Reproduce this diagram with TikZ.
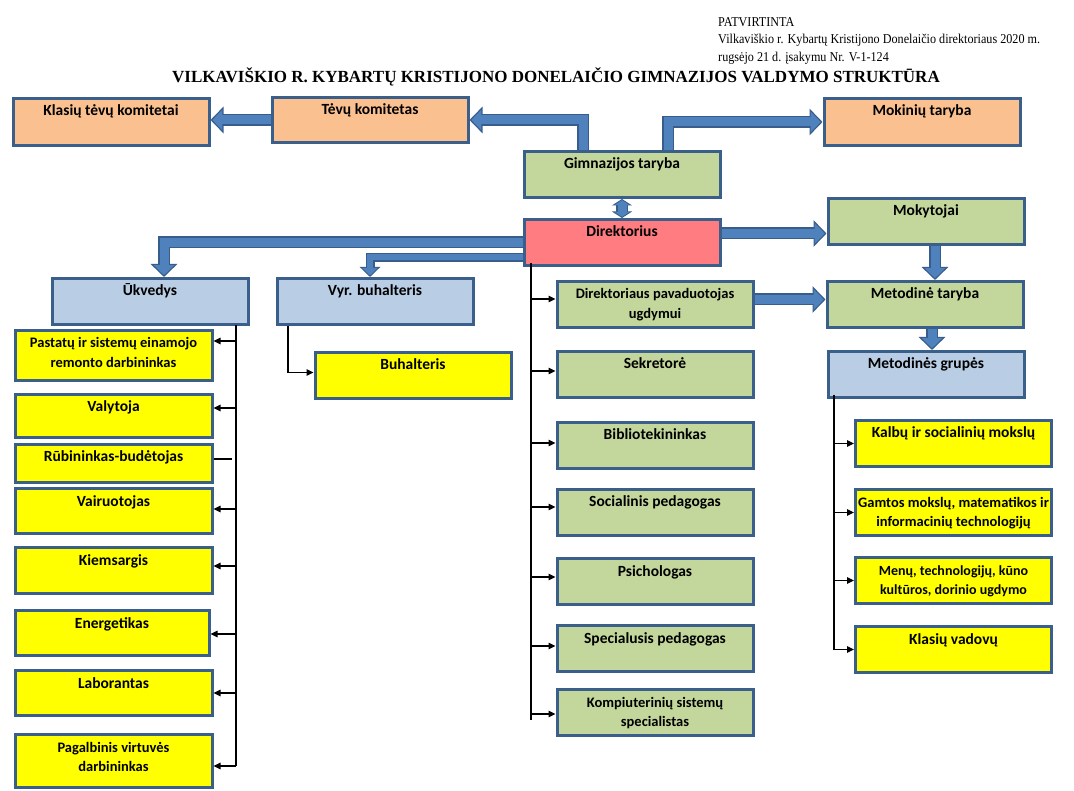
\documentclass[tikz,border=0pt]{standalone}
\usepackage{fontspec}
\usetikzlibrary{arrows.meta}
\setmainfont{Liberation Serif}
\newfontfamily\boxfont{Carlito}
\newfontfamily\notefont[FakeStretch=0.9]{Liberation Serif}

\definecolor{boxedge}{HTML}{3A5F8B}
\definecolor{corange}{HTML}{FAC090}
\definecolor{cgreen}{HTML}{C3D69B}
\definecolor{cblue}{HTML}{B9CDE5}
\definecolor{cyellow}{HTML}{FFFF00}
\definecolor{cpink}{HTML}{FF7C80}
\definecolor{flowblue}{HTML}{4F81BD}
\definecolor{flowedge}{HTML}{385D8A}

\tikzset{
  panel/.style={draw=boxedge, line width=3pt, anchor=north, minimum width=196pt,
    inner xsep=0pt, inner ysep=0pt, text height=17.5pt, text depth=28.5pt,
    align=center, font=\boxfont\bfseries\fontsize{15.5}{19.5}\selectfont},
  twoline/.style={text height=37pt, text depth=#1, font=\boxfont\bfseries\fontsize{14.5}{19.5}\selectfont},
  twoline/.default=9pt,
  orangebox/.style={panel, fill=corange},
  greenbox/.style={panel, fill=cgreen},
  bluebox/.style={panel, fill=cblue},
  yellowbox/.style={panel, fill=cyellow},
  branch/.style={line width=1.1pt, -{Triangle[length=7pt,width=6.5pt]}},
  flow/.style={draw=flowedge, line width=12pt, -{Triangle[length=13pt,width=26pt]},
    postaction={draw=flowblue, line width=9pt, -{Triangle[length=10pt,width=20pt]}, shorten >=1.8pt}},
  flowthin/.style={draw=flowedge, line width=9pt, -{Triangle[length=10pt,width=20pt]},
    postaction={draw=flowblue, line width=6pt, -{Triangle[length=7.5pt,width=15pt]}, shorten >=1.5pt}},
  flowboth/.style={draw=flowedge, line width=12pt, {Triangle[length=6.5pt,width=20pt]}-{Triangle[length=6.5pt,width=20pt]},
    postaction={draw=flowblue, line width=9pt, {Triangle[length=5pt,width=15pt]}-{Triangle[length=5pt,width=15pt]},
      shorten >=1.2pt, shorten <=1.2pt}},
}

\begin{document}
\begin{tikzpicture}[x=1pt, y=-1pt]
  \fill[white] (0,0) rectangle (1074,791);
  \useasboundingbox (0,0) rectangle (1074,791);

  % header
  \node[anchor=base west, inner sep=0pt, font=\notefont\fontsize{13.5}{16}\selectfont] (approved) at (718,27) {PATVIRTINTA};
  \node[anchor=base west, inner sep=0pt, font=\notefont\fontsize{13.5}{16}\selectfont] (order1) at (718,44) {Vilkaviškio r. Kybartų Kristijono Donelaičio direktoriaus 2020 m.};
  \node[anchor=base west, inner sep=0pt, font=\notefont\fontsize{13.5}{16}\selectfont] (order2) at (718,62) {rugsėjo 21 d. įsakymu Nr. V-1-124};
  \node[anchor=base, inner sep=0pt, font=\bfseries\fontsize{17}{20}\selectfont] (title) at (556,83) {VILKAVIŠKIO R. KYBARTŲ KRISTIJONO DONELAIČIO GIMNAZIJOS VALDYMO STRUKTŪRA};

  % top row
  \node[orangebox, text depth=29.5pt] (kla) at (111,97) {Klasių tėvų komitetai};
  \node[orangebox, text depth=27.5pt] (tevu) at (370,96) {Tėvų komitetas};
  \node[orangebox, text depth=29.5pt] (mok) at (922,97) {Mokinių taryba};
  \node[greenbox] (gimn) at (622,150) {Gimnazijos taryba};
  \node[panel, fill=cpink] (dir) at (622,218) {Direktorius};
  \node[greenbox] (mkt) at (926,197) {Mokytojai};
  \node[greenbox] (met) at (925,280) {Metodinė taryba};
  \node[bluebox] (grp) at (926,350) {Metodinės grupės};
  \node[bluebox] (ukv) at (150,277) {Ūkvedys};
  \node[bluebox] (vyr) at (375,277) {Vyr. buhalteris};
  \node[yellowbox] (buh) at (413,351) {Buhalteris};

  % left column
  \node[yellowbox, minimum width=197pt, twoline=13pt] (pas) at (113.5,329) {Pastatų ir sistemų einamojo\\remonto darbininkas};
  \node[yellowbox, minimum width=197pt, text depth=25.5pt] (val) at (113.5,393) {Valytoja};
  \node[yellowbox, minimum width=197pt, text depth=20.5pt] (rub) at (113.5,443) {Rūbininkas-budėtojas};
  \node[yellowbox, minimum width=197pt, text depth=27.5pt] (vai) at (113.5,487) {Vairuotojas};
  \node[yellowbox, minimum width=197pt] (kie) at (113.5,546) {Kiemsargis};
  \node[yellowbox, minimum width=194pt, text depth=27.5pt] (ene) at (112,609) {Energetikas};
  \node[yellowbox, minimum width=197pt, text depth=27.5pt] (lab) at (113.5,669) {Laborantas};
  \node[yellowbox, minimum width=197pt, twoline=16pt] (pag) at (113.5,733) {Pagalbinis virtuvės\\darbininkas};

  % middle column
  \node[greenbox, twoline] (pav) at (655,280) {Direktoriaus pavaduotojas\\ugdymui};
  \node[greenbox] (sek) at (655,350) {Sekretorė};
  \node[greenbox] (bib) at (655,421) {Bibliotekininkas};
  \node[greenbox] (soc) at (655,488) {Socialinis pedagogas};
  \node[greenbox] (psi) at (655,557) {Psichologas};
  \node[greenbox] (spe) at (655,624) {Specialusis pedagogas};
  \node[greenbox, twoline] (kom) at (655,688) {Kompiuterinių sistemų\\specialistas};

  % right column
  \node[yellowbox] (kal) at (953.5,419) {Kalbų ir socialinių mokslų};
  \node[yellowbox, twoline] (gam) at (953.5,488) {Gamtos mokslų, matematikos ir\\informacinių technologijų};
  \node[yellowbox, twoline, font=\boxfont\bfseries\fontsize{14}{19.5}\selectfont] (men) at (953.5,556) {Menų, technologijų, kūno\\kultūros, dorinio ugdymo};
  \node[yellowbox] (kvad) at (953.5,625) {Klasių vadovų};

  % block arrows
  \draw[flow] (tevu.west) -- (tevu.west -| kla.east);
  \draw[flow] ([xshift=-39pt]gimn.north) |- (tevu.east);
  \draw[flow] ([xshift=46pt]gimn.north) |- (mok.west);
  \draw[flowboth] (gimn.south) -- (dir.north);
  \draw[flow] ([yshift=9pt]dir.east) -- ([yshift=9pt]dir.east -| mkt.west);
  \draw[flow] (dir.west) -| ([xshift=14pt]ukv.north);
  \draw[flowthin] ([yshift=-15pt]dir.west) -| ([xshift=-5pt]vyr.north);
  \draw[flow] ([xshift=9pt]mkt.south) -- ([xshift=9pt]mkt.south |- met.north);
  \draw[flow] ([yshift=5pt]pav.east) -- ([yshift=5pt]pav.east -| met.west);
  \draw[flow] ([xshift=7pt]met.south) -- ([xshift=7pt]met.south |- grp.north);

  % thin connectors
  \coordinate (lspine) at (236,325);
  \coordinate (mspine) at (531,263);
  \coordinate (rspine) at (834,395);
  \draw[line width=1.1pt] (lspine) -- (lspine |- 0,766);
  \foreach \n/\y in {pas/341,val/408,vai/509,kie/566,ene/634,lab/693,pag/766}
    \draw[branch] (lspine |- 0,\y) -- (\n.east |- 0,\y);
  \draw[line width=1.1pt] (rub.east |- 0,459) -- (232,459);
  \draw[line width=1.1pt] (mspine) -- (mspine |- 0,720);
  \foreach \n/\y in {pav/299,sek/371,bib/443,soc/507,psi/577,spe/646,kom/714}
    \draw[branch] (mspine |- 0,\y) -- (\n.west |- 0,\y);
  \draw[line width=1.1pt] (rspine) -- (rspine |- kvad.west);
  \foreach \n in {kal,gam,men,kvad}
    \draw[branch] (rspine |- \n.west) -- (\n.west);
  \draw[branch] ([xshift=-87pt]vyr.south) |- ([yshift=3pt]buh.west);
\end{tikzpicture}
\end{document}
